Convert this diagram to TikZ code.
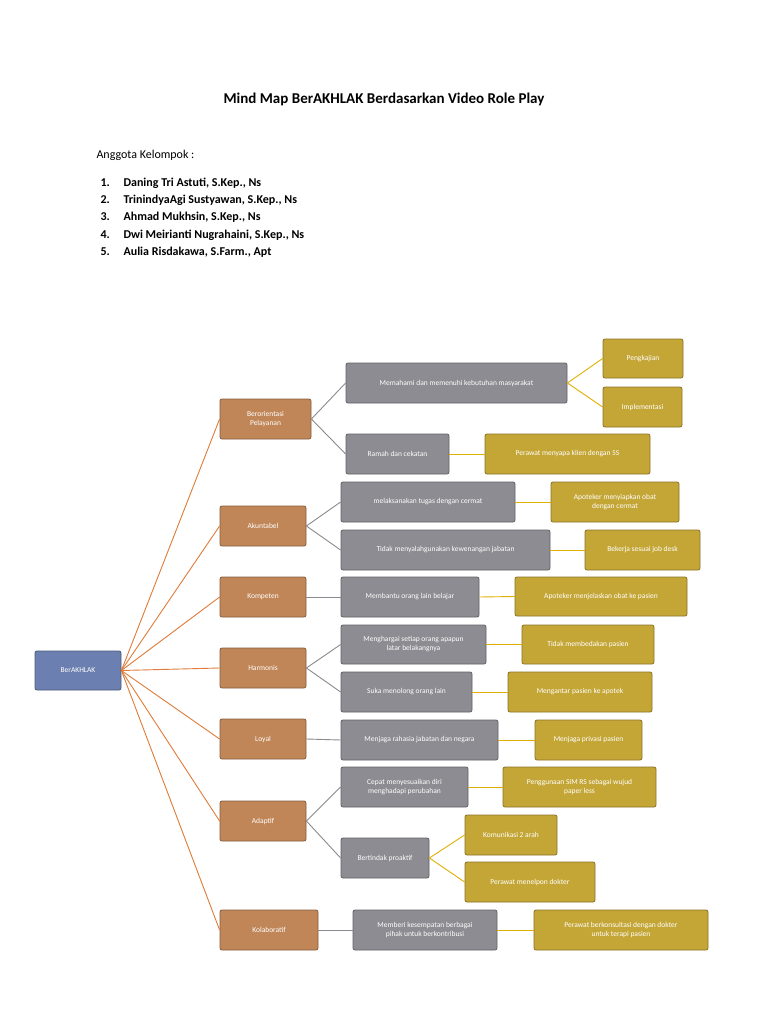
\documentclass[tikz,border=0pt]{standalone}
\usepackage{fontspec}
\setmainfont{Carlito}
\definecolor{rootc}{HTML}{6B7FB0}
\definecolor{brownc}{HTML}{C08658}
\definecolor{grayc}{HTML}{8C8C92}
\definecolor{goldc}{HTML}{C4A637}
\definecolor{orl}{HTML}{E07B39}
\definecolor{grl}{HTML}{8A8A90}
\definecolor{gol}{HTML}{E0B000}
\begin{document}
\begin{tikzpicture}[x=1pt,y=-1pt,
 bx/.style={draw=#1!70!black,line width=0.8pt,fill=#1,rounded corners=2pt,text=white,align=center,font=\fontsize{7.5}{9}\selectfont,inner sep=2pt},
 rootbox/.style={bx=rootc},l1/.style={bx=brownc},l2/.style={bx=grayc},l3/.style={bx=goldc},
 co/.style={orl,line width=0.9pt},cg/.style={grl,line width=0.9pt},cy/.style={gol,line width=0.9pt}]
\useasboundingbox[fill=white] (0,0) rectangle (768,1024);
\node[font=\bfseries\fontsize{15}{18}\selectfont] (title) at (384,99) {Mind Map BerAKHLAK Berdasarkan Video Role Play};
\node[anchor=west,font=\fontsize{12}{14}\selectfont] (agg) at (93,155) {Anggota Kelompok :};
\foreach \i/\t [count=\k] in {183/Daning Tri Astuti\text{, }S.Kep.\text{, }Ns}{}
\begin{scope}[font=\bfseries\fontsize{12}{14}\selectfont]
\node[anchor=west] (n1) at (97,183) {1.};\node[anchor=west] (m1) at (120,183) {Daning Tri Astuti, S.Kep., Ns};
\node[anchor=west] (n2) at (97,200) {2.};\node[anchor=west] (m2) at (120,200) {TrinindyaAgi Sustyawan, S.Kep., Ns};
\node[anchor=west] (n3) at (97,217) {3.};\node[anchor=west] (m3) at (120,217) {Ahmad Mukhsin, S.Kep., Ns};
\node[anchor=west] (n4) at (97,235) {4.};\node[anchor=west] (m4) at (120,235) {Dwi Meirianti Nugrahaini, S.Kep., Ns};
\node[anchor=west] (n5) at (97,252) {5.};\node[anchor=west] (m5) at (120,252) {Aulia Risdakawa, S.Farm., Apt};
\end{scope}
% macro for boxes with given corners
\newcommand{\bxn}[6]{\node[#1,minimum width=#4-#3,minimum height=#6-#5] (#2) at ({(#3+#4)/2},{(#5+#6)/2})}
\bxn{rootbox}{root}{35}{121}{651}{690} {BerAKHLAK};
\bxn{l1}{a}{220}{311}{399}{439} {Berorientasi\\Pelayanan};
\bxn{l1}{b}{220}{306}{506}{546} {Akuntabel};
\bxn{l1}{c}{220}{306}{577}{617} {Kompeten};
\bxn{l1}{d}{220}{306}{648}{688} {Harmonis};
\bxn{l1}{e}{220}{306}{719}{759} {Loyal};
\bxn{l1}{f}{220}{306}{801}{841} {Adaptif};
\bxn{l1}{g}{220}{318}{910}{950} {Kolaboratif};
\bxn{l2}{a1}{346}{567}{363}{403} {Memahami dan memenuhi kebutuhan masyarakat};
\bxn{l2}{a2}{346}{449}{434}{474} {Ramah dan cekatan};
\bxn{l2}{b1}{341}{515}{482}{522} {melaksanakan tugas dengan cermat};
\bxn{l2}{b2}{341}{550}{530}{570} {Tidak menyalahgunakan kewenangan jabatan};
\bxn{l2}{c1}{341}{479}{577}{617} {Membantu orang lain belajar};
\bxn{l2}{d1}{341}{486}{625}{664} {Menghargai setiap orang apapun\\latar belakangnya};
\bxn{l2}{d2}{341}{472}{672}{712} {Suka menolong orang lain};
\bxn{l2}{e1}{341}{498}{720}{760} {Menjaga rahasia jabatan dan negara};
\bxn{l2}{f1}{341}{468}{767}{807} {Cepat menyesuaikan diri\\menghadapi perubahan};
\bxn{l2}{f2}{341}{429}{838}{878} {Bertindak proaktif};
\bxn{l2}{g1}{353}{497}{910}{950} {Memberi kesempatan berbagai\\pihak untuk berkontribusi};
\bxn{l3}{a11}{603}{683}{339}{378} {Pengkajian};
\bxn{l3}{a12}{603}{682}{387}{427} {Implementasi};
\bxn{l3}{a21}{485}{650}{434}{474} {Perawat menyapa klien dengan 5S};
\bxn{l3}{b11}{551}{679}{482}{522} {Apoteker menyiapkan obat\\dengan cermat};
\bxn{l3}{b21}{585}{700}{530}{570} {Bekerja sesuai job desk};
\bxn{l3}{c11}{515}{687}{577}{616} {Apoteker menjelaskan obat ke pasien};
\bxn{l3}{d11}{522}{654}{625}{664} {Tidak membedakan pasien};
\bxn{l3}{d21}{508}{652}{672}{712} {Mengantar pasien ke apotek};
\bxn{l3}{e11}{535}{642}{720}{760} {Menjaga privasi pasien};
\bxn{l3}{f11}{503}{656}{767}{807} {Penggunaan SIM RS sebagai wujud\\paper less};
\bxn{l3}{f21}{465}{557}{815}{855} {Komunikasi 2 arah};
\bxn{l3}{f22}{465}{595}{862}{902} {Perawat menelpon dokter};
\bxn{l3}{g11}{534}{708}{910}{950} {Perawat berkonsultasi dengan dokter\\untuk terapi pasien};
\begin{scope}[on background layer/.style={}]
\foreach \t in {a,b,c,d,e,f,g} \draw[co] (root.east) -- (\t.west);
\foreach \s/\t in {a/a1,a/a2,b/b1,b/b2,c/c1,d/d1,d/d2,e/e1,f/f1,f/f2,g/g1} \draw[cg] (\s.east) -- (\t.west);
\foreach \s/\t in {a1/a11,a1/a12,a2/a21,b1/b11,b2/b21,c1/c11,d1/d11,d2/d21,e1/e11,f1/f11,f2/f21,f2/f22,g1/g11} \draw[cy] (\s.east) -- (\t.west);
\end{scope}
\end{tikzpicture}
\end{document}
